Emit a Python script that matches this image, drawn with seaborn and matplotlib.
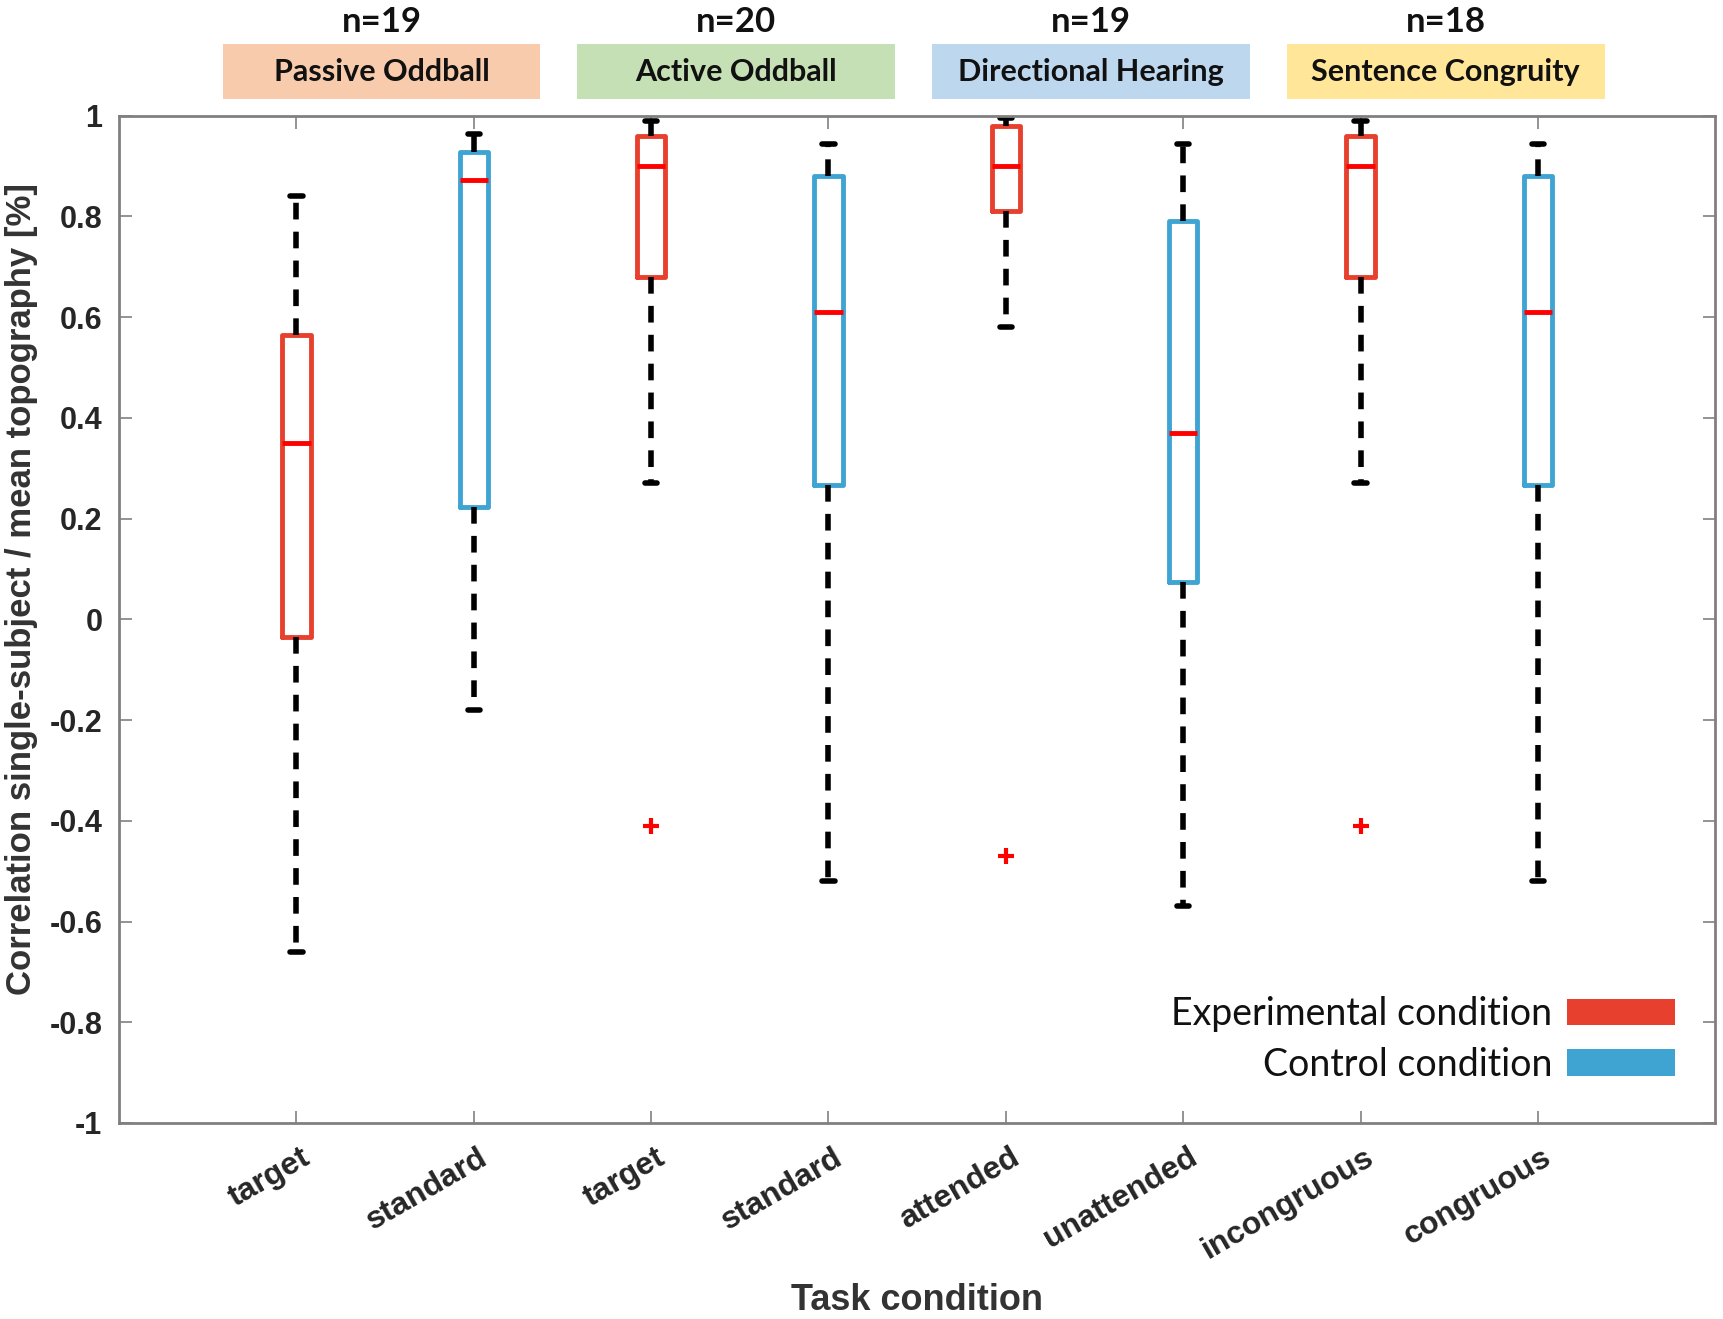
import numpy as np
import pandas as pd
import matplotlib
matplotlib.use("Agg")
import matplotlib.pyplot as plt
import matplotlib.transforms as mtransforms
from matplotlib.patches import Patch, Rectangle
import seaborn as sns

# ---------------- data ----------------
tick_labels = ["target", "standard", "target", "standard",
               "attended", "unattended", "incongruous", "congruous"]
condition = ["Experimental", "Control"] * 4
whisker_low = [-0.66, -0.18, 0.27, -0.52, 0.58, -0.57, 0.27, -0.52]
q1 = [-0.035, 0.223, 0.68, 0.266, 0.81, 0.074, 0.68, 0.266]
median = [0.35, 0.873, 0.90, 0.61, 0.90, 0.37, 0.90, 0.61]
q3 = [0.565, 0.928, 0.96, 0.88, 0.98, 0.79, 0.96, 0.88]
whisker_high = [0.84, 0.963, 0.99, 0.943, 0.995, 0.943, 0.99, 0.943]
outlier_pos = [2, 4, 6]
outlier_val = [-0.41, -0.47, -0.41]

groups = ["Passive Oddball", "Active Oddball", "Directional Hearing", "Sentence Congruity"]
group_n = ["n=19", "n=20", "n=19", "n=18"]
group_colors = ["#F8CBAD", "#C5E0B4", "#BDD7EE", "#FFE699"]

legend_labels = ["Experimental condition", "Control condition"]
exp_color = "#E8402E"
ctl_color = "#3FA4D2"

# build a table whose five-number summary equals the values above
rows = []
for i in range(8):
    for v in (whisker_low[i], q1[i], median[i], q3[i], whisker_high[i]):
        rows.append({"pos": i, "cond": condition[i], "value": v})
df = pd.DataFrame(rows)

# ---------------- figure ----------------
sns.set_theme(style="white")
plt.rcParams["font.family"] = ["Liberation Sans", "DejaVu Sans"]

fig = plt.figure(figsize=(17.24, 13.19), dpi=100)
ax = fig.add_axes([0.069, 0.1486, 0.926, 0.7638])

sns.boxplot(data=df, x="pos", y="value", hue="cond",
            hue_order=["Experimental", "Control"],
            palette={"Experimental": exp_color, "Control": ctl_color},
            order=list(range(8)), dodge=False, fill=False, width=0.16,
            whis=(0, 100), linewidth=3.5, legend=False,
            medianprops={"color": "#FF0000", "linewidth": 3.5},
            whiskerprops={"color": "black", "linestyle": (0, (3.0, 2.2)), "linewidth": 4},
            capprops={"color": "black", "linewidth": 4},
            showfliers=False, ax=ax)

# make caps narrow like the reference
for ln in ax.lines:
    xd = np.asarray(ln.get_xdata(), dtype=float)
    yd = np.asarray(ln.get_ydata(), dtype=float)
    if len(xd) == 2 and yd[0] == yd[1] and ln.get_color() in ("black", "k", (0, 0, 0, 1)):
        c = xd.mean()
        ln.set_xdata([c - 0.035, c + 0.035])

sns.scatterplot(x=outlier_pos, y=outlier_val, marker="+", color="#FF0000",
                s=140, linewidth=3, ax=ax, zorder=5)

ax.set_xlim(-1, 8)
ax.set_ylim(-1, 1)
ax.set_yticks(np.round(np.arange(-1, 1.01, 0.2), 1))
ax.set_yticklabels(["-1", "-0.8", "-0.6", "-0.4", "-0.2", "0", "0.2", "0.4", "0.6", "0.8", "1"],
                   fontsize=22, fontweight="bold", color="#262626")
ax.set_xticks(range(8))
ax.set_xticklabels(tick_labels, rotation=30, ha="right", rotation_mode="anchor",
                   fontsize=23, fontweight="bold", color="#262626")
ax.tick_params(axis="both", direction="in", length=9, width=1.2, color="#808080",
               top=True, right=True, bottom=True, left=True)
ax.tick_params(axis="y", pad=12)
ax.tick_params(axis="x", pad=14)
shift = mtransforms.ScaledTranslation(0.04, 0, fig.dpi_scale_trans)
for lab in ax.get_xticklabels():
    lab.set_transform(lab.get_transform() + shift)
for sp in ax.spines.values():
    sp.set_color("#808080")
    sp.set_linewidth(2)
    sp.set_visible(True)

ax.set_xlabel("Task condition", fontsize=26, fontweight="bold", color="#333333")
ax.xaxis.label.set_va("center")
ax.xaxis.set_label_coords(0.5, -0.176)
ax.set_ylabel("Correlation single-subject / mean topography [%]", fontsize=25,
              fontweight="bold", color="#333333")
ax.yaxis.label.set_va("center")
ax.yaxis.set_label_coords(-0.061, 0.53)

# group header boxes
for k, (g, n, col) in enumerate(zip(groups, group_n, group_colors)):
    c = 2 * k + 0.48
    ax.add_patch(Rectangle((c - 0.895, 1.032), 1.79, 0.11, transform=ax.transData,
                           facecolor=col, edgecolor="none", clip_on=False))
    ax.text(c, 1.087, g, ha="center", va="center", fontsize=22, fontweight="bold",
            family=["Lato", "DejaVu Sans"], color="#111111", clip_on=False)
    ax.text(c + 0.0, 1.185, n, ha="center", va="center", fontsize=25, fontweight="bold",
            family=["Lato", "DejaVu Sans"], color="#111111", clip_on=False)

handles = [Patch(facecolor=exp_color, edgecolor="none"),
           Patch(facecolor=ctl_color, edgecolor="none")]
leg = ax.legend(handles, legend_labels, loc="lower right", bbox_to_anchor=(0.975, 0.04),
                frameon=False, markerfirst=False, handlelength=2.9, handleheight=0.7,
                handletextpad=0.38, labelspacing=0.38, borderpad=0, borderaxespad=0,
                prop={"family": ["Lato", "DejaVu Sans"], "size": 27})
for t in leg.get_texts():
    t.set_color("#111111")

fig.savefig("out.png", dpi=100)
